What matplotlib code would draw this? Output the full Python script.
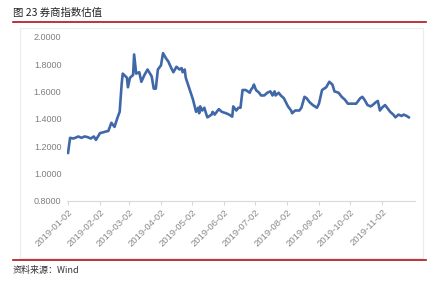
import numpy as np
import pandas as pd
import matplotlib
matplotlib.use("Agg")
import matplotlib.pyplot as plt
import matplotlib.dates as mdates
from matplotlib.patches import Rectangle
from matplotlib.lines import Line2D

plt.rcParams['font.family'] = ['Liberation Sans', 'Noto Sans CJK SC', 'DejaVu Sans']

# traced values of the broker index valuation
dates = [
    "2019-01-02", "2019-01-04", "2019-01-07", "2019-01-09", "2019-01-12", "2019-01-15",
    "2019-01-18", "2019-01-21", "2019-01-24", "2019-01-27", "2019-01-29", "2019-02-02",
    "2019-02-05", "2019-02-07", "2019-02-10", "2019-02-13", "2019-02-16", "2019-02-19",
    "2019-02-21", "2019-02-23", "2019-02-24", "2019-02-28", "2019-03-01", "2019-03-03",
    "2019-03-06", "2019-03-07", "2019-03-09", "2019-03-12", "2019-03-14", "2019-03-17",
    "2019-03-20", "2019-03-24", "2019-03-26", "2019-03-28", "2019-03-30", "2019-04-02",
    "2019-04-04", "2019-04-07", "2019-04-09", "2019-04-12", "2019-04-14", "2019-04-17",
    "2019-04-20", "2019-04-22", "2019-04-23", "2019-04-25", "2019-04-26", "2019-04-30",
    "2019-05-03", "2019-05-06", "2019-05-08", "2019-05-09", "2019-05-10", "2019-05-12",
    "2019-05-14", "2019-05-16", "2019-05-17", "2019-05-21", "2019-05-22", "2019-05-24",
    "2019-05-28", "2019-05-31", "2019-06-04", "2019-06-07", "2019-06-10", "2019-06-11",
    "2019-06-14", "2019-06-16", "2019-06-18", "2019-06-20", "2019-06-23", "2019-06-25",
    "2019-06-27", "2019-06-28", "2019-06-30", "2019-07-01", "2019-07-03", "2019-07-06",
    "2019-07-08", "2019-07-11", "2019-07-14", "2019-07-17", "2019-07-19", "2019-07-21",
    "2019-07-22", "2019-07-25", "2019-07-27", "2019-07-30", "2019-08-03", "2019-08-06",
    "2019-08-07", "2019-08-10", "2019-08-14", "2019-08-16", "2019-08-19", "2019-08-21",
    "2019-08-24", "2019-08-27", "2019-08-29", "2019-08-31", "2019-09-02", "2019-09-05",
    "2019-09-09", "2019-09-12", "2019-09-15", "2019-09-17", "2019-09-21", "2019-09-24",
    "2019-09-27", "2019-09-30", "2019-10-03", "2019-10-08", "2019-10-12", "2019-10-14",
    "2019-10-16", "2019-10-19", "2019-10-22", "2019-10-24", "2019-10-27", "2019-10-29",
    "2019-10-31", "2019-11-02", "2019-11-05", "2019-11-07", "2019-11-10", "2019-11-13",
    "2019-11-15", "2019-11-18", "2019-11-21", "2019-11-23", "2019-11-26", "2019-11-28",
]
values = [
    1.15, 1.26, 1.255, 1.26, 1.27, 1.26,
    1.27, 1.265, 1.255, 1.27, 1.245, 1.295,
    1.30, 1.305, 1.31, 1.37, 1.34, 1.41,
    1.45, 1.66, 1.73, 1.70, 1.63, 1.70,
    1.72, 1.87, 1.73, 1.74, 1.67, 1.72,
    1.76, 1.71, 1.62, 1.62, 1.76, 1.79,
    1.88, 1.84, 1.82, 1.77, 1.74, 1.78,
    1.76, 1.77, 1.74, 1.76, 1.70, 1.61,
    1.54, 1.45, 1.48, 1.44, 1.49, 1.46,
    1.48, 1.43, 1.41, 1.43, 1.45, 1.43,
    1.47, 1.45, 1.44, 1.43, 1.415, 1.49,
    1.46, 1.48, 1.48, 1.61, 1.61, 1.60,
    1.59, 1.61, 1.63, 1.65, 1.61, 1.59,
    1.57, 1.57, 1.59, 1.60, 1.57, 1.60,
    1.57, 1.59, 1.57, 1.55, 1.49, 1.46,
    1.44, 1.46, 1.46, 1.48, 1.56, 1.55,
    1.52, 1.50, 1.49, 1.48, 1.51, 1.61,
    1.63, 1.67, 1.65, 1.60, 1.59, 1.56,
    1.54, 1.51, 1.51, 1.51, 1.55, 1.56,
    1.54, 1.50, 1.49, 1.50, 1.52, 1.53,
    1.46, 1.48, 1.50, 1.48, 1.45, 1.43,
    1.41, 1.43, 1.42, 1.43, 1.42, 1.41,
]
tick_dates = ["2019-%02d-02" % m for m in range(1, 12)]
y_ticks = [0.8, 1.0, 1.2, 1.4, 1.6, 1.8, 2.0]

title = "图 23 券商指数估值"
source = "资料来源：Wind"

x = pd.to_datetime(dates)

fig = plt.figure(figsize=(4.48, 2.85), dpi=100)
W, H = 448, 285

# faint frame around the chart area
fig.patches.append(Rectangle((20 / W, 1 - 258 / H), 403 / W, 230 / H,
                             transform=fig.transFigure, fill=False,
                             edgecolor="#ececec", linewidth=0.8))
# red rules under the title and above the source
for yy in (22, 260):
    fig.lines.append(Line2D([13 / W, 426 / W], [1 - yy / H, 1 - yy / H],
                            transform=fig.transFigure, color="#b0101a", linewidth=1.2))

fig.text(13 / W, 1 - 13 / H, title, fontsize=7.5, color="#222222",
         family=['Noto Sans CJK SC', 'DejaVu Sans'], va="center", ha="left")
fig.text(13 / W, 1 - 270 / H, source, fontsize=6.5, color="#333333",
         family=['Noto Sans CJK SC', 'DejaVu Sans'], va="center", ha="left")

ax = fig.add_axes([67 / W, 1 - 200.7 / H, 348 / W, 164 / H])
ax.plot(x, values, color="#4068a8", linewidth=1.9, solid_joinstyle="round")

ax.set_ylim(0.8, 2.0)
ax.set_yticks(y_ticks)
ax.set_yticklabels(["%.4f" % v for v in y_ticks])
ax.set_xlim(pd.Timestamp("2019-01-01"), pd.Timestamp("2019-12-04"))
ax.set_xticks(pd.to_datetime(tick_dates))
ax.set_xticklabels(tick_dates, rotation=45, ha="right", rotation_mode="anchor")

for s in ("top", "right", "left"):
    ax.spines[s].set_visible(False)
ax.spines["bottom"].set_color("#d9d9d9")
ax.spines["bottom"].set_linewidth(0.8)
ax.tick_params(axis="y", length=0, labelsize=6.5, labelcolor="#7f7f7f", pad=4)
ax.tick_params(axis="x", length=3, color="#d9d9d9", labelsize=6.8,
               labelcolor="#8a8a8a", pad=2)

fig.savefig("out.png", dpi=100)
